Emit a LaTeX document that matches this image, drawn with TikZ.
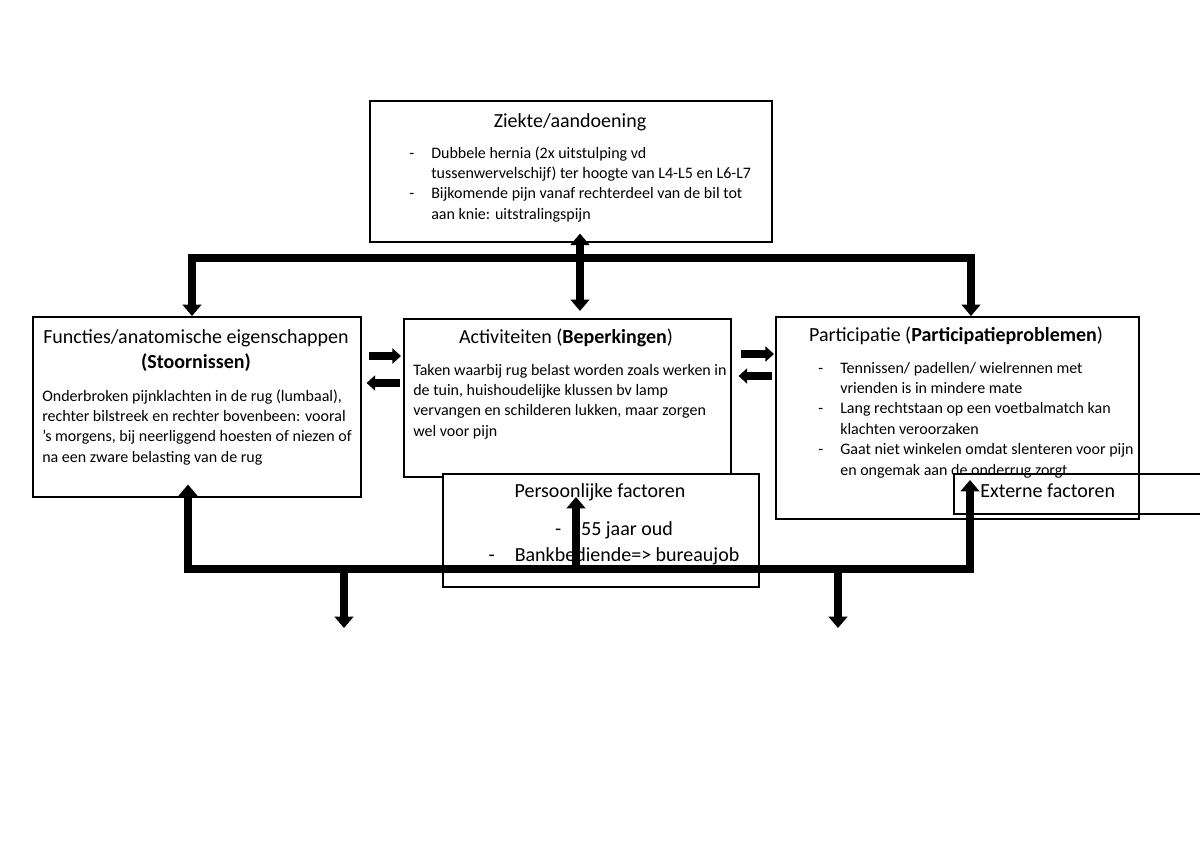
\documentclass[tikz,border=0pt]{standalone}
\usepackage{fontspec}
\setmainfont{Carlito}
\usetikzlibrary{arrows.meta,calc}

\newcommand{\boxtitle}{\fontsize{14}{17.5}\selectfont}
\newcommand{\boxbody}{\fontsize{11.2}{14.3}\selectfont}
\newcommand{\persfont}{\fontsize{14}{18.2}\selectfont}

\tikzset{
  box/.style={draw, line width=1.1pt, anchor=north west, inner sep=0pt},
  txt/.style={inner sep=0pt},
  fat/.style={line width=6pt},
  mid/.style={line width=5pt},
  bigtip/.tip={Triangle[width=13pt,length=8pt]},
  smalltip/.tip={Triangle[width=10.5pt,length=6pt]}
}

\begin{document}
\begin{tikzpicture}[x=0.7pt,y=-0.7pt]
\useasboundingbox (0,0) rectangle (1200,848);

% the boxes
\node[box, minimum width=281.4pt, minimum height=98.7pt] (zie) at (369,100) {};
\node[box, minimum width=229.6pt, minimum height=126pt] (fun) at (32,316) {};
\node[box, minimum width=228.9pt, minimum height=110.6pt] (act) at (403,318) {};
\node[box, minimum width=254.1pt, minimum height=141.4pt] (par) at (775,316) {};

% Ziekte/aandoening
\node[txt, anchor=base] (zietitle) at (570,127) {\boxtitle Ziekte/aandoening};
\node[txt, anchor=base west] (ziebody) at (409,158) {\boxbody
  \begin{tabular}[t]{@{}p{15.4pt}@{}l@{}}
  - & Dubbele hernia (2x uitstulping vd\\
    & tussenwervelschijf) ter hoogte van L4-L5 en L6-L7\\
  - & Bijkomende pijn vanaf rechterdeel van de bil tot\\
    & aan knie: uitstralingspijn
  \end{tabular}};

% Functies
\node[txt, anchor=base] (funtitle) at (196,343) {\boxtitle
  \begin{tabular}[t]{@{}c@{}}
  Functies/anatomische eigenschappen\\
  \textbf{(Stoornissen)}
  \end{tabular}};
\node[txt, anchor=base west] (funbody) at (42,401) {\boxbody
  \begin{tabular}[t]{@{}l@{}}
  Onderbroken pijnklachten in de rug (lumbaal),\\
  rechter bilstreek en rechter bovenbeen: vooral\\
  ’s morgens, bij neerliggend hoesten of niezen of\\
  na een zware belasting van de rug
  \end{tabular}};

% Activiteiten
\node[txt, anchor=base] (acttitle) at (566,343) {\boxtitle Activiteiten (\textbf{Beperkingen})};
\node[txt, anchor=base west] (actbody) at (413,375) {\boxbody
  \begin{tabular}[t]{@{}l@{}}
  Taken waarbij rug belast worden zoals werken in\\
  de tuin, huishoudelijke klussen bv lamp\\
  vervangen en schilderen lukken, maar zorgen\\
  wel voor pijn
  \end{tabular}};

% Participatie
\node[txt, anchor=base] (partitle) at (956,341) {\boxtitle Participatie (\textbf{Participatieproblemen})};
\node[txt, anchor=base west] (parbody) at (818,373) {\boxbody
  \begin{tabular}[t]{@{}p{15.4pt}@{}l@{}}
  - & Tennissen/ padellen/ wielrennen met\\
    & vrienden is in mindere mate\\
  - & Lang rechtstaan op een voetbalmatch kan\\
    & klachten veroorzaken\\
  - & Gaat niet winkelen omdat slenteren voor pijn\\
    & en ongemak aan de onderrug zorgt
  \end{tabular}};

% factoren
\node[box, fill=white, minimum width=221.2pt, minimum height=79.1pt] (pers) at (442,473) {};
\node[box, minimum width=182pt, minimum height=28pt] (ext) at (953,473) {};
\node[txt, anchor=base] (perstitle) at (600,497) {\boxtitle Persoonlijke factoren};
\node[txt, anchor=base] (persbody) at (614,535) {\persfont
  \begin{tabular}[t]{@{}c@{}}
  -\hspace{14pt}55 jaar oud\\
  -\hspace{14pt}Bankbediende=> bureaujob
  \end{tabular}};
\node[txt, anchor=base west] (exttitle) at (980,497) {\boxtitle Externe factoren};

% arrows top
\coordinate (tl) at (192,258);
\coordinate (tr) at (971,258);
\coordinate (tc) at (580,258);
\draw[fat, bigtip-bigtip] (tl |- fun.north) -- (tl) -- (tr) -- (tr |- par.north);
\draw[fat, bigtip-bigtip] ($(tc |- zie.south)+(0,-9)$) -- ($(tc |- act.north)+(0,-7)$);

% arrows between the boxes
\draw[mid, -smalltip] ($(fun.north east)+(7,40)$) -- ($(act.north west)+(-2,38)$);
\draw[mid, -smalltip] ($(act.north west)+(-3,65)$) -- ($(fun.north east)+(5,67)$);
\draw[mid, -smalltip] ($(act.north east)+(9,36)$) -- ($(par.north west)+(-1,38)$);
\draw[mid, -smalltip] ($(par.north west)+(-3,60)$) -- ($(act.north east)+(7,58)$);

% arrows bottom
\coordinate (bl) at (188,569);
\coordinate (br) at (970,569);
\coordinate (bc) at (576,569);
\coordinate (dl) at (344,628);
\coordinate (dr) at (838,628);
\draw[fat, bigtip-bigtip] ($(bl |- fun.south)+(0,-13)$) -- (bl) -- (br) -- ($(br |- ext.north)+(0,7)$);
\draw[fat, -bigtip] (bc) -- ($(bc |- pers.north)+(0,24)$);
\draw[fat, -bigtip] (bl -| dl) -- (dl);
\draw[fat, -bigtip] (bl -| dr) -- (dr);
\end{tikzpicture}
\end{document}
